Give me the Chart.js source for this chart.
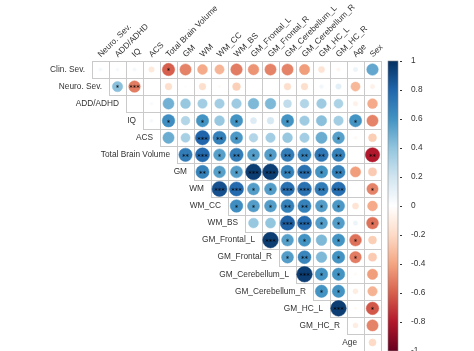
<!DOCTYPE html>
<html>
<head>
<meta charset="utf-8">
<script src="https://cdn.jsdelivr.net/npm/chart.js@4/dist/chart.umd.min.js"></script>
<style>
  html, body { margin: 0; padding: 0; background: #fff; overflow: hidden; }
  #wrap { width: 474px; height: 351px; }
</style>
</head>
<body>
<div id="wrap"><canvas id="myChart"></canvas></div>
<script>
// Variable names (rows use 0..16, columns use 1..17)
const varNames = ['Clin. Sev.', 'Neuro. Sev.', 'ADD/ADHD', 'IQ', 'ACS', 'Total Brain Volume',
  'GM', 'WM', 'WM_CC', 'WM_BS', 'GM_Frontal_L', 'GM_Frontal_R', 'GM_Cerebellum_L',
  'GM_Cerebellum_R', 'GM_HC_L', 'GM_HC_R', 'Age', 'Sex'];
const rowLabels = varNames.slice(0, 17);
const colLabels = varNames.slice(1);

// Upper triangle correlations, row i starts at column of varNames[i+1]
const corr = [
  [0.05, 0.04, 0.05, -0.12, -0.6, -0.5, -0.38, -0.34, -0.52, -0.45, -0.5, -0.5, -0.42, -0.15, -0.05, 0.08, 0.52],
  [0.42, -0.52, 0, -0.18, -0.02, -0.18, -0.03, -0.24, 0, 0, -0.18, -0.18, 0.06, 0.12, -0.33, -0.08],
  [0.01, 0.03, 0.48, 0.38, 0.35, 0.35, 0.36, 0.45, 0.45, 0.25, 0.3, 0.36, 0.32, -0.08, -0.38],
  [0.04, 0.62, 0.3, 0.6, 0.38, 0.6, 0.15, 0.18, 0.6, 0.36, 0.42, 0.35, 0.6, -0.5],
  [0.5, 0.33, 0.8, 0.68, 0.58, 0.3, 0.35, 0.38, 0.35, 0.5, 0.55, -0.04, -0.25],
  [0.7, 0.78, 0.55, 0.7, 0.56, 0.56, 0.7, 0.68, 0.72, 0.68, 0, -0.8],
  [0.68, 0.55, 0.56, 0.95, 0.95, 0.68, 0.75, 0.6, 0.68, -0.42, -0.26],
  [0.88, 0.78, 0.56, 0.56, 0.75, 0.75, 0.7, 0.76, 0, -0.5],
  [0.62, 0.56, 0.56, 0.68, 0.68, 0.56, 0.58, -0.15, -0.38],
  [0.38, 0.4, 0.82, 0.78, 0.56, 0.56, 0.08, -0.55],
  [0.95, 0.55, 0.6, 0.45, 0.6, -0.55, -0.25],
  [0.56, 0.66, 0.45, 0.6, -0.52, -0.26],
  [0.95, 0.6, 0.6, -0.03, -0.42],
  [0.6, 0.6, -0.1, -0.35],
  [0.95, -0.03, -0.62],
  [-0.1, -0.5],
  [-0.2]
];

// Number of significance stars, same layout as corr
const stars = [
  [0, 0, 0, 0, 1, 0, 0, 0, 0, 0, 0, 0, 0, 0, 0, 0, 0],
  [1, 3, 0, 0, 0, 0, 0, 0, 0, 0, 0, 0, 0, 0, 0, 0],
  [0, 0, 0, 0, 0, 0, 0, 0, 0, 0, 0, 0, 0, 0, 0],
  [0, 1, 0, 1, 0, 1, 0, 0, 1, 0, 0, 0, 1, 0],
  [0, 0, 3, 2, 1, 0, 0, 0, 0, 0, 1, 0, 0],
  [2, 3, 1, 2, 1, 1, 2, 2, 2, 2, 0, 2],
  [2, 1, 1, 3, 3, 2, 3, 1, 2, 0, 0],
  [3, 3, 1, 1, 3, 3, 2, 3, 0, 1],
  [1, 1, 1, 2, 2, 1, 1, 0, 0],
  [0, 0, 3, 3, 1, 1, 0, 1],
  [3, 1, 1, 0, 1, 1, 0],
  [1, 2, 0, 1, 1, 0],
  [3, 1, 1, 0, 0],
  [1, 1, 0, 0],
  [3, 0, 1],
  [0, 0],
  [0]
];

const colorbarTicks = [1, 0.8, 0.6, 0.4, 0.2, 0, -0.2, -0.4, -0.6, -0.8, -1];

// RdBu palette, from -1 to 1
const palette = ['#67001F', '#B2182B', '#D6604D', '#F4A582', '#FDDBC7', '#FFFFFF',
  '#D1E5F0', '#92C5DE', '#4393C3', '#2166AC', '#053061'];

function hexToRgb(h) {
  return [parseInt(h.slice(1, 3), 16), parseInt(h.slice(3, 5), 16), parseInt(h.slice(5, 7), 16)];
}
function corrColor(v) {
  const t = (v + 1) / 2 * (palette.length - 1);
  const i = Math.min(Math.floor(t), palette.length - 2);
  const f = t - i;
  const a = hexToRgb(palette[i]), b = hexToRgb(palette[i + 1]);
  const c = a.map((x, k) => Math.round(x + (b[k] - x) * f));
  return 'rgb(' + c.join(',') + ')';
}

// Build points from the triangle
const points = [];
corr.forEach(function(row, i) {
  row.forEach(function(v, j) {
    points.push({ x: i + j, y: i, r: v, s: stars[i][j] });
  });
});

const labelFont = '8.3px "Liberation Sans", Arial, sans-serif';

function cellSize(chart) {
  const xs = chart.scales.x;
  return Math.abs(xs.getPixelForValue(1) - xs.getPixelForValue(0));
}

// Grid cells, labels and colour bar
const corrPlugin = {
  id: 'corrPlugin',
  beforeDatasetsDraw(chart) {
    const ctx = chart.ctx;
    const xs = chart.scales.x, ys = chart.scales.y;
    ctx.save();
    ctx.strokeStyle = '#cacaca';
    ctx.lineWidth = 1;
    for (let i = 0; i < rowLabels.length; i++) {
      for (let k = i; k < colLabels.length; k++) {
        const x0 = Math.round(xs.getPixelForValue(k - 0.5)) + 0.5;
        const x1 = Math.round(xs.getPixelForValue(k + 0.5)) + 0.5;
        const y0 = Math.round(ys.getPixelForValue(i - 0.5)) + 0.5;
        const y1 = Math.round(ys.getPixelForValue(i + 0.5)) + 0.5;
        ctx.strokeRect(x0, y0, x1 - x0, y1 - y0);
      }
    }
    // row labels
    ctx.fillStyle = '#333';
    ctx.font = labelFont;
    ctx.textAlign = 'right';
    ctx.textBaseline = 'middle';
    rowLabels.forEach(function(lab, i) {
      ctx.fillText(lab, xs.getPixelForValue(i - 0.5) - 7, ys.getPixelForValue(i));
    });
    // column labels
    ctx.textAlign = 'left';
    const top = ys.getPixelForValue(-0.5);
    colLabels.forEach(function(lab, k) {
      ctx.save();
      ctx.translate(xs.getPixelForValue(k) - 1, top - 5);
      ctx.rotate(-Math.PI / 4);
      ctx.fillText(lab, 0, 0);
      ctx.restore();
    });
    // colour bar
    const cb = chart.scales.cb;
    const bx = 388, bw = 10;
    const yTop = cb.getPixelForValue(1), yBot = cb.getPixelForValue(-1);
    const grad = ctx.createLinearGradient(0, yTop, 0, yBot);
    palette.slice().reverse().forEach(function(c, i) {
      grad.addColorStop(i / (palette.length - 1), c);
    });
    ctx.fillStyle = grad;
    ctx.fillRect(bx, yTop, bw, yBot - yTop);
    ctx.strokeStyle = '#888';
    ctx.lineWidth = 0.6;
    ctx.strokeRect(bx, yTop, bw, yBot - yTop);
    ctx.fillStyle = '#333';
    ctx.textBaseline = 'middle';
    colorbarTicks.forEach(function(t) {
      const py = cb.getPixelForValue(t);
      ctx.fillRect(bx + bw + 2, Math.round(py), 2, 1);
      ctx.fillText(String(t), 411, py);
    });
    ctx.restore();
  },
  afterDatasetsDraw(chart) {
    const ctx = chart.ctx;
    const xs = chart.scales.x, ys = chart.scales.y;
    ctx.save();
    ctx.fillStyle = '#000';
    ctx.font = '7px "DejaVu Sans", sans-serif';
    ctx.textAlign = 'center';
    ctx.textBaseline = 'middle';
    points.forEach(function(p) {
      if (!p.s) return;
      ctx.fillText('*'.repeat(p.s), xs.getPixelForValue(p.x), ys.getPixelForValue(p.y) + 2);
    });
    ctx.restore();
  }
};

const data = {
  datasets: [{
    data: points,
    pointRadius: function(c) {
      const p = c.raw;
      if (!p || !p.r) return 0;
      return cellSize(c.chart) * 0.47 * Math.sqrt(Math.abs(p.r));
    },
    backgroundColor: function(c) { return c.raw ? corrColor(c.raw.r) : '#fff'; },
    borderColor: function(c) { return c.raw ? corrColor(c.raw.r) : '#fff'; },
    borderWidth: 0.5
  }]
};

const config = {
  type: 'scatter',
  data,
  options: {
    responsive: true,
    maintainAspectRatio: false,
    animation: false,
    events: [],
    layout: { padding: { left: 92, right: 93, top: 61, bottom: 0 } },
    plugins: { legend: { display: false }, tooltip: { enabled: false } },
    scales: {
      x: { type: 'linear', min: -0.5, max: 16.5, display: false },
      y: { type: 'linear', min: -0.5, max: 16.5, reverse: true, display: false },
      cb: { type: 'linear', axis: 'y', min: -1, max: 1, display: false }
    }
  },
  plugins: [corrPlugin]
};

const myChart = new Chart(document.getElementById('myChart'), config);
</script>
</body>
</html>
